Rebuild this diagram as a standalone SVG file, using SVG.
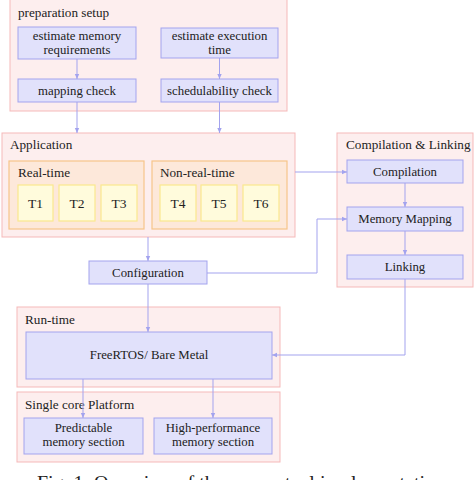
<svg xmlns="http://www.w3.org/2000/svg" width="474" height="480" viewBox="0 0 474 480">
<defs>
<style>
text{font-family:"Liberation Serif","Times New Roman",serif;font-size:12.8px;fill:#222}
.grp{fill:#fdeeee;stroke:#f5b9b9;stroke-width:1}
.blue{fill:#e1e1fb;stroke:#a3a3ee;stroke-width:1}
.org{fill:#fde8da;stroke:#f7c58a;stroke-width:1.2}
.yel{fill:#fffbdc;stroke:#fbe88e;stroke-width:1.2}
.c{text-anchor:middle}
.lbl{font-size:13.2px}
.tl{font-size:13.5px}
.conn{fill:none;stroke:#a3a3ee;stroke-width:1}
</style>
<marker id="ah" markerWidth="6" markerHeight="6" refX="5" refY="3" orient="auto" markerUnits="userSpaceOnUse">
<path d="M0,0.8 L5,3 L0,5.2 z" fill="#a3a3ee"/>
</marker>
</defs>
<g id="preparation-setup">
<rect class="grp" x="10" y="-1" width="277" height="112"/>
<text class="lbl" x="18" y="17">preparation setup</text>
</g>
<g id="est-mem"><rect class="blue" x="18" y="27" width="118" height="32"/><text class="c" x="77" y="40">estimate memory</text><text class="c" x="77" y="54">requirements</text></g>
<g id="est-exec"><rect class="blue" x="161" y="28" width="117" height="30"/><text class="c" x="219.5" y="40">estimate execution</text><text class="c" x="219.5" y="54">time</text></g>
<g id="mapping-check"><rect class="blue" x="18" y="79" width="118" height="23"/><text class="c" x="77" y="94.5">mapping check</text></g>
<g id="sched-check"><rect class="blue" x="161" y="79" width="117" height="23"/><text class="c" x="219.5" y="94.5">schedulability check</text></g>

<g id="application"><rect class="grp" x="2" y="133" width="293" height="104"/><text class="lbl" x="10" y="149">Application</text></g>
<g id="real-time"><rect class="org" x="9" y="161" width="135" height="68"/><text class="lbl" x="18" y="177">Real-time</text></g>
<g id="non-real-time"><rect class="org" x="152" y="161" width="135" height="68"/><text class="lbl" x="160" y="177">Non-real-time</text></g>
<g id="T1"><rect class="yel" x="18" y="185" width="35" height="36"/><text class="c tl" x="35.5" y="207.5">T1</text></g>
<g id="T2"><rect class="yel" x="59" y="185" width="36" height="36"/><text class="c tl" x="77" y="207.5">T2</text></g>
<g id="T3"><rect class="yel" x="101" y="185" width="36" height="36"/><text class="c tl" x="119" y="207.5">T3</text></g>
<g id="T4"><rect class="yel" x="160" y="185" width="36" height="36"/><text class="c tl" x="178" y="207.5">T4</text></g>
<g id="T5"><rect class="yel" x="201" y="185" width="36" height="36"/><text class="c tl" x="219" y="207.5">T5</text></g>
<g id="T6"><rect class="yel" x="243" y="185" width="36" height="36"/><text class="c tl" x="261" y="207.5">T6</text></g>

<g id="compilation-linking"><rect class="grp" x="337" y="133" width="136" height="154"/><text class="lbl" x="346" y="149">Compilation &amp; Linking</text></g>
<g id="compilation"><rect class="blue" x="347" y="160" width="116" height="23"/><text class="c" x="405" y="175.5">Compilation</text></g>
<g id="memory-mapping"><rect class="blue" x="347" y="207" width="116" height="24"/><text class="c" x="405" y="223">Memory Mapping</text></g>
<g id="linking"><rect class="blue" x="347" y="255" width="116" height="24"/><text class="c" x="405" y="271">Linking</text></g>

<g id="configuration"><rect class="blue" x="89" y="261" width="118" height="23"/><text class="c" x="148" y="276.5">Configuration</text></g>

<g id="run-time"><rect class="grp" x="17" y="307" width="263" height="80"/><text class="lbl" x="25" y="324">Run-time</text></g>
<g id="freertos"><rect class="blue" x="26" y="332" width="246" height="47"/><text class="c" x="149" y="359">FreeRTOS/ Bare Metal</text></g>

<g id="single-core-platform"><rect class="grp" x="17" y="392" width="263" height="70"/><text class="lbl" x="25" y="409">Single core Platform</text></g>
<g id="predictable"><rect class="blue" x="24" y="418" width="119" height="36"/><text class="c" x="83.5" y="432">Predictable</text><text class="c" x="83.5" y="446">memory section</text></g>
<g id="high-perf"><rect class="blue" x="154" y="418" width="118" height="36"/><text class="c" x="213" y="432">High-performance</text><text class="c" x="213" y="446">memory section</text></g>

<g id="connectors">
<path class="conn" d="M77,59 V79" marker-end="url(#ah)"/>
<path class="conn" d="M219.5,58 V79" marker-end="url(#ah)"/>
<path class="conn" d="M77,102 V133" marker-end="url(#ah)"/>
<path class="conn" d="M219.5,102 V133" marker-end="url(#ah)"/>
<path class="conn" d="M295,172 H347" marker-end="url(#ah)"/>
<path class="conn" d="M405,183 V207" marker-end="url(#ah)"/>
<path class="conn" d="M405,231 V255" marker-end="url(#ah)"/>
<path class="conn" d="M148,237 V261" marker-end="url(#ah)"/>
<path class="conn" d="M207,273 H317 V219 H347" marker-end="url(#ah)"/>
<path class="conn" d="M148,284 V332" marker-end="url(#ah)"/>
<path class="conn" d="M405,279 V355 H272" marker-end="url(#ah)"/>
<path class="conn" d="M83,379 V418" marker-end="url(#ah)"/>
<path class="conn" d="M213,379 V418" marker-end="url(#ah)"/>
</g>
<text x="37" y="489" style="font-size:18px" textLength="408" lengthAdjust="spacingAndGlyphs">Fig. 1: Overview of the conceptual implementation</text>
</svg>
